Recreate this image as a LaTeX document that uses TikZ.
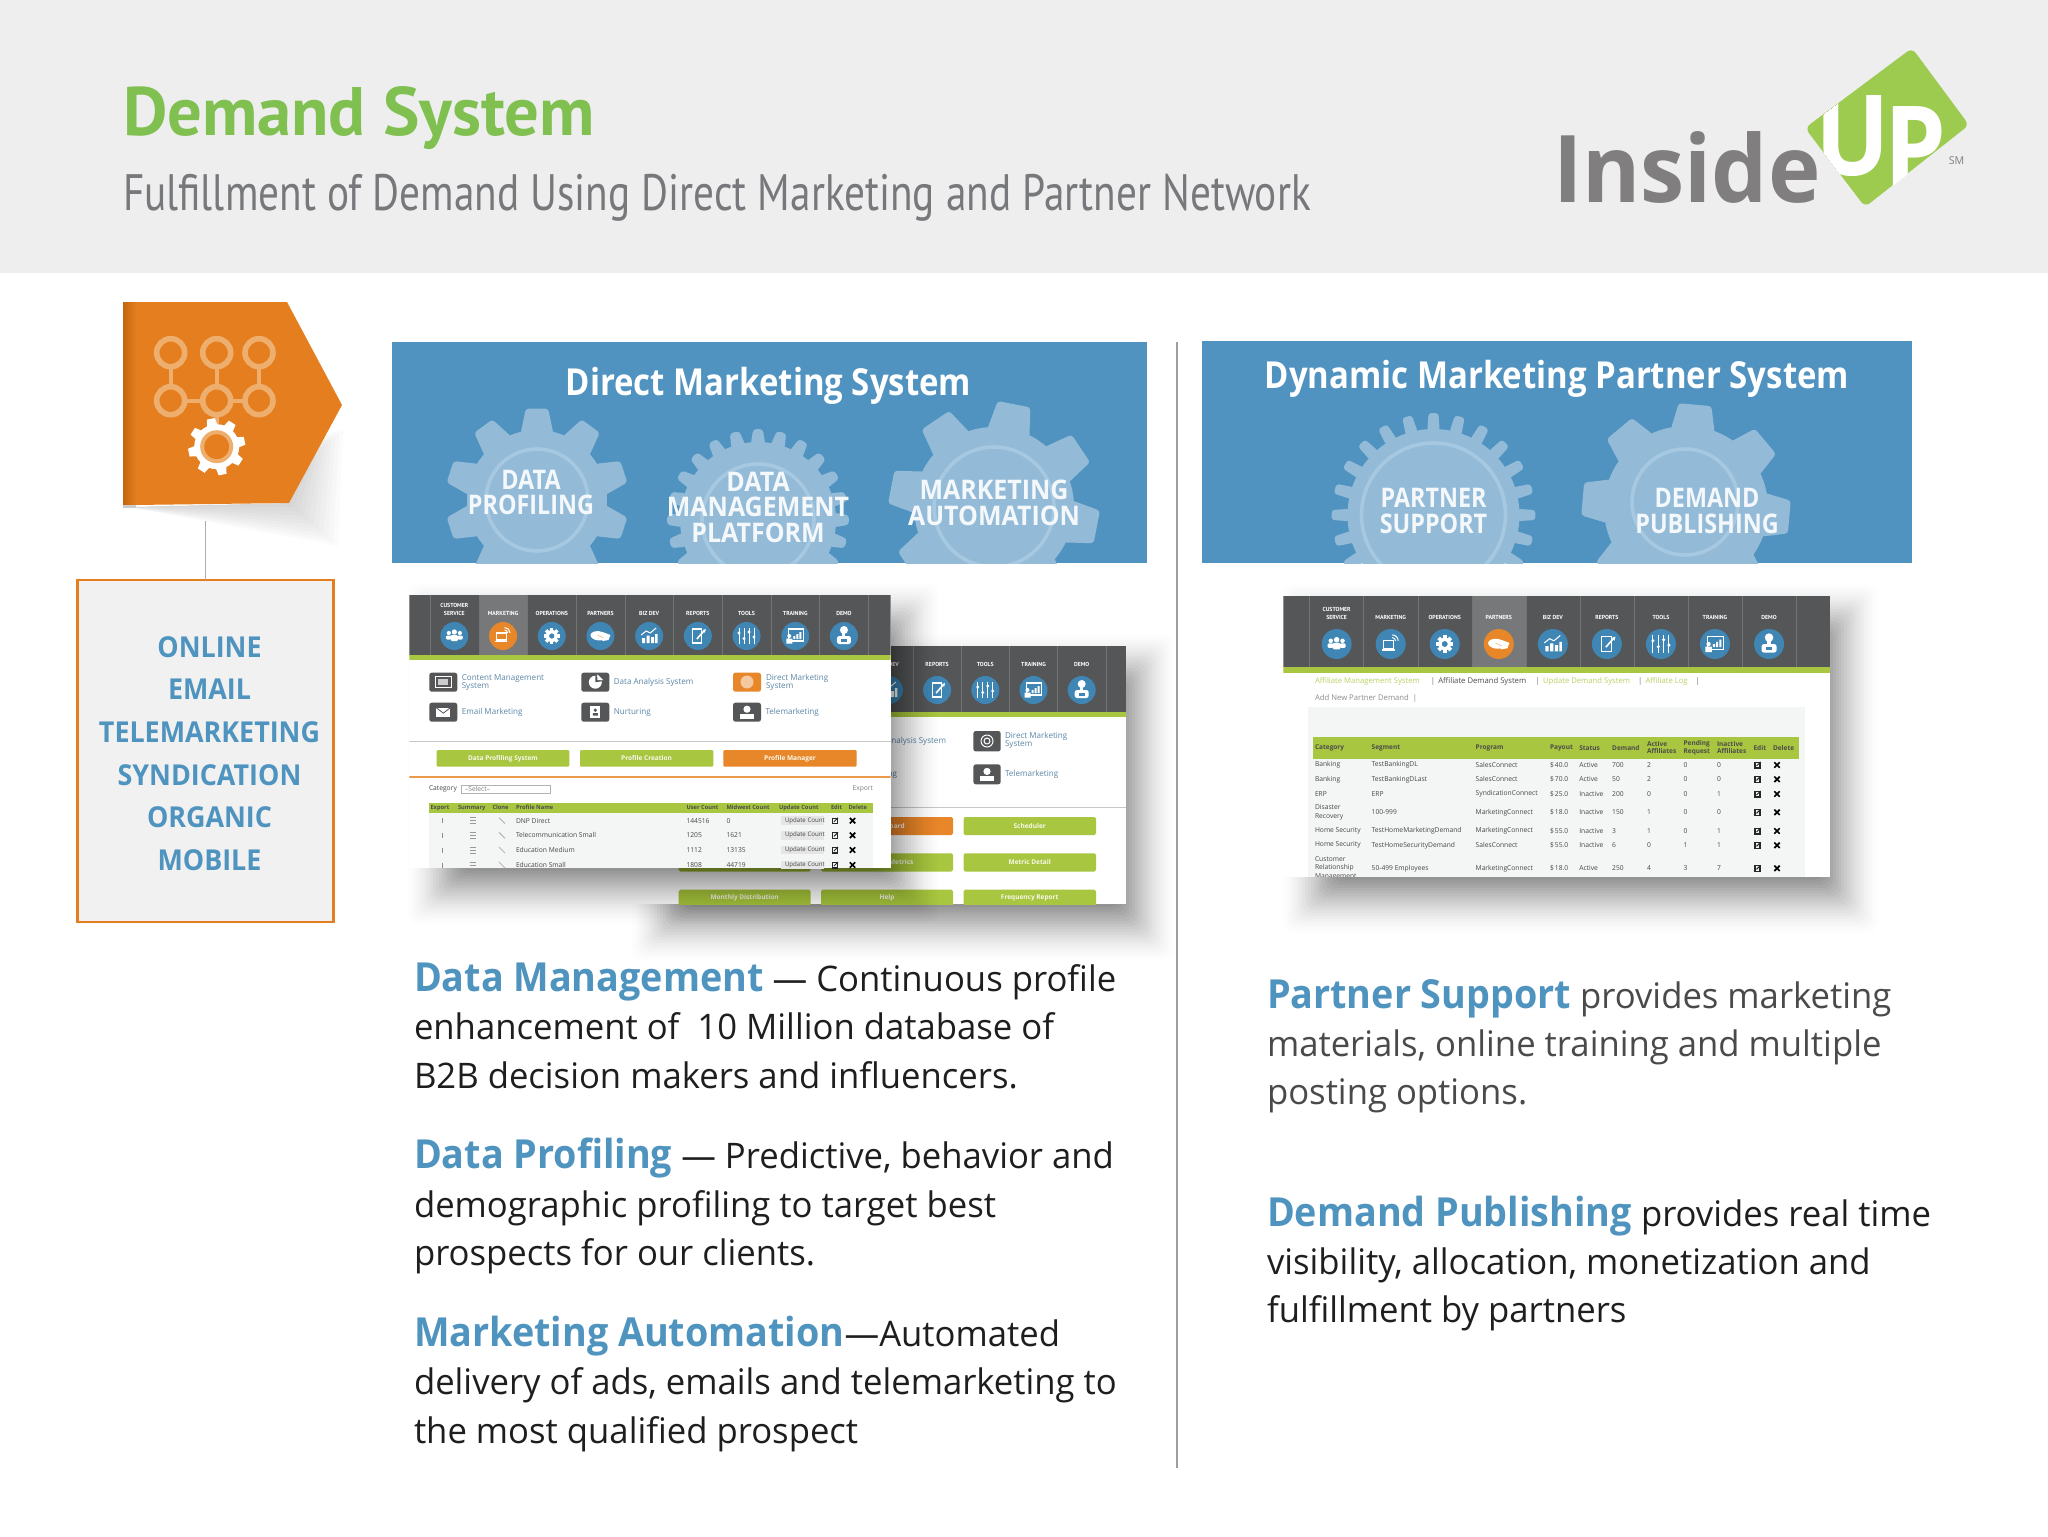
\documentclass[tikz,border=0pt]{standalone}
\usepackage{fontspec}
\setmainfont{Open Sans}[FakeStretch=0.985]
\newfontfamily\ptsans{PT Sans}
\newfontfamily\ptnarrow[FakeStretch=0.806]{PT Sans}
\newfontfamily\oshead[FakeStretch=0.943]{Open Sans}
\newfontfamily\oslist[FakeStretch=0.933]{Open Sans}
\newfontfamily\ostitle[FakeStretch=0.885]{Open Sans}
\newfontfamily\osgear[FakeStretch=0.865]{Open Sans}
\newfontfamily\osgearw[FakeStretch=0.925]{Open Sans}
\newfontfamily\osup[FakeStretch=0.88]{Open Sans}
\newfontfamily\osins[FakeStretch=0.95]{Open Sans}
\definecolor{hdr}{HTML}{EEEEEF}
\definecolor{titlegreen}{HTML}{80C050}
\definecolor{subgray}{HTML}{77787B}
\definecolor{logogreen}{HTML}{9CCB50}
\definecolor{logogray}{HTML}{807E7F}
\definecolor{bannerblue}{HTML}{5093C0}
\definecolor{gearcol}{HTML}{93BBD8}
\definecolor{ringcol}{HTML}{A6C8E0}
\definecolor{headblue}{HTML}{4F93BF}
\definecolor{orangeM}{HTML}{E47E1E}
\definecolor{orangeD}{HTML}{C2670F}
\definecolor{iconring}{HTML}{EEAE6E}
\definecolor{boxfill}{HTML}{F1F1F2}
\definecolor{darkbar}{HTML}{555657}
\definecolor{tabhi}{HTML}{77787A}
\definecolor{scrgreen}{HTML}{A8C63F}
\definecolor{iconblue}{HTML}{3F86B4}
\definecolor{iconorange}{HTML}{E8872A}
\definecolor{itemtext}{HTML}{5D87A6}
\definecolor{rowbg}{HTML}{F4F5F5}
\definecolor{bodytext}{HTML}{1E1E1E}
\definecolor{softtext}{HTML}{4A4A4A}
\newcount\nodecnt
\tikzset{
  every node/.append style={/utils/exec={\global\advance\nodecnt by 1},name=auto\the\nodecnt,inner sep=0pt,outer sep=0pt},
  bline/.style={anchor=base west,font=\fontsize{17.6}{20}\selectfont,text=bodytext},
  softline/.style={bline,text=softtext},
  listitem/.style={font=\oslist\bfseries\fontsize{14.4}{17}\selectfont,text=headblue},
  gearlabel/.style={font=\osgear\bfseries\fontsize{13.5}{16}\selectfont,text=white!90!gearcol},
  gearlabelw/.style={font=\osgearw\bfseries\fontsize{13.5}{16}\selectfont,text=white!90!gearcol},
  bannertitle/.style={font=\ostitle\bfseries\fontsize{18.6}{22}\selectfont,text=white},
  tablabel/.style={anchor=south,align=center,font=\ptsans\bfseries\fontsize{2.9}{3.9}\selectfont,text=white},
  itemlabel/.style={anchor=west,align=left,font=\fontsize{4.1}{4.4}\selectfont,text=itemtext},
  btnlabel/.style={font=\bfseries\fontsize{3.3}{4}\selectfont,text=white!90!scrgreen},
  tcell/.style={anchor=west,align=left,font=\fontsize{3.4}{4.3}\selectfont,text=black!72},
  thead/.style={anchor=west,align=left,font=\bfseries\fontsize{3.3}{3.9}\selectfont,text=black!70},
}
\newcommand\softshadow[4]{%
  \foreach \k in {0,...,19}{%
    \pgfmathsetmacro\op{.006+.002*\k}%
    \fill[black,opacity=\op,rounded corners=5pt]
      ({#1-8+2.8*\k},{#2-12+2.8*\k}) rectangle ({#3+48-2.8*\k},{#4+56-2.8*\k});
  }%
}
\newcommand\gearshape[8]{% cx cy rOuter rRoot n halfroot halftop rot
  \begin{scope}[shift={(#1,#2)}]
    \fill[gearcol] (0,0) circle (#4);
    \foreach \t in {1,...,#5}{%
      \pgfmathsetmacro\aa{#8+\t*360/#5}%
      \fill[gearcol,rounded corners=1.5pt]
        ({\aa-#6}:#4-2) -- ({\aa-#7}:#3) -- ({\aa+#7}:#3) -- ({\aa+#6}:#4-2) -- cycle;
    }%
  \end{scope}
}
\newcommand\tabicon[1]{%
  \ifcase#1\or
    \fill[white] (-5.5,-3) circle (2.1) (5.5,-3) circle (2.1) (0,-4) circle (2.6);
    \fill[white,rounded corners=.6pt] (-8.5,3.5) rectangle (-3,-.5) (3,3.5) rectangle (8.5,-.5) (-3.6,5) rectangle (3.6,-1);
  \or
    \draw[white,line width=.55pt] (-7,-3) rectangle (3,4);
    \fill[white] (-8,5) rectangle (4,6.3);
    \draw[white,line width=.5pt] (4.5,-3) arc (0:-90:3) (7,-3) arc (0:-90:5.5);
  \or
    \foreach \q in {0,45,...,315}{\fill[white,rotate=\q] (-1.7,-4) rectangle (1.7,-8);}
    \draw[white,line width=1.7pt] (0,0) circle (4.6);
  \or
    \fill[white,rotate=-6] (-2,0) ellipse (8 and 4.6);
    \fill[white] (2,-4) -- (10,-1) -- (8,4) -- (2,5) -- cycle;
    \draw[iconorange!60!white,line width=.3pt] (-3,-1) -- (3,2);
  \or
    \fill[white] (-7,7) rectangle (-4,2) (-2.5,7) rectangle (.5,-.5) (2,7) rectangle (5,1) (6,7) rectangle (8.5,-2);
    \draw[white,line width=.5pt] (-8,-1) -- (-3,-5) -- (1,-3) -- (7,-8);
  \or
    \draw[white,line width=.6pt] (-5,-7) rectangle (4,7);
    \draw[white,line width=.8pt] (-1,3) -- (6,-5);
    \fill[white] (5,-6) -- (8,-7) -- (7,-3) -- cycle;
  \or
    \foreach \q in {-7.5,-2.5,2.5,7.5}{\draw[white,line width=.5pt] (\q,-8) -- (\q,8);}
    \fill[white] (-7.5,-3) circle (1.6) (-2.5,2.5) circle (1.6) (2.5,-4) circle (1.6) (7.5,1) circle (1.6);
  \or
    \draw[white,line width=.6pt] (-7,-7) rectangle (8,5);
    \fill[white] (-2,3) rectangle (0,0) (1,3) rectangle (3,-2) (4,3) rectangle (6,-4);
    \fill[white] (-6,0) circle (2) (-9,7.5) rectangle (-3,2.5);
  \or
    \fill[white] (0,-6) circle (4);
    \fill[white] (-1.5,-3) rectangle (1.5,1);
    \fill[white,rounded corners=1.2pt] (-7,8) rectangle (7,0);
    \fill[iconblue] (-3,5.5) rectangle (3,3);
  \fi
}
\newcommand\tabbar[8]{% x0 width ylabel yicon iconscale highlight top bottom
  \fill[tabhi] ({#1+(#6-1)*#2},#7) rectangle ({#1+#6*#2},#8);
  \foreach \i in {0,...,9}{\draw[black!55,line width=.2pt] ({#1+\i*#2},#7) -- ({#1+\i*#2},#8);}
  \foreach \lab [count=\i] in {{CUSTOMER\\SERVICE},MARKETING,OPERATIONS,PARTNERS,BIZ DEV,REPORTS,TOOLS,TRAINING,DEMO}{%
    \node[tablabel] at ({#1+(\i-.5)*#2},{#3+3}) {\lab};
    \ifnum\i=#6\relax\def\tabcol{iconorange}\else\def\tabcol{iconblue}\fi
    \begin{scope}[shift={({#1+(\i-.5)*#2},#4)},scale=#5]
      \fill[\tabcol] (0,0) circle (14);
      \tabicon{\i}
    \end{scope}
  }%
}
\newcommand\itemicon[5]{% x0 y0 x1 y1 colour
  \fill[#5,rounded corners=1.2pt] (#1,#2) rectangle (#3,#4);
}
\newcommand\smallicon[3]{% kind cx cy
  \begin{scope}[shift={(#2,#3)}]
  \ifcase#1\or
    \draw[white,line width=.6pt] (-8,-5.5) rectangle (8,5.5);
    \fill[white!70!darkbar] (-5,-3) rectangle (5,3);
  \or
    \fill[white] (0,0) circle (6.5);
    \fill[darkbar] (0,0) -- (0,-7) -- (7,-1) -- cycle;
    \fill[white] (2,-2) -- (2,-8) -- (8,-2) -- cycle;
  \or
    \fill[white] (-7,-4.5) rectangle (7,4.5);
    \draw[darkbar,line width=.4pt] (-7,-4.5) -- (0,1) -- (7,-4.5);
  \or
    \fill[white] (-5,-6) rectangle (5,6);
    \fill[darkbar] (0,-2) circle (1.8) (-2.5,3.5) rectangle (2.5,1);
  \or
    \fill[white] (0,-3) circle (3.6);
    \fill[white] (-7,6.5) rectangle (7,1.5);
  \fi
  \end{scope}
}
\newcommand\editdel[3]{%
  \draw[black!85,line width=.55pt] ({#1-2.5},{#3-2.5}) rectangle ({#1+2.5},{#3+3});
  \draw[black!85,line width=.5pt] ({#1-1},{#3+1}) -- ({#1+3},{#3-3});
  \draw[black,line width=.85pt] ({#2-2.7},{#3-2.7}) -- ({#2+2.7},{#3+2.7}) ({#2-2.7},{#3+2.7}) -- ({#2+2.7},{#3-2.7});
}
\begin{document}
\begin{tikzpicture}[x=0.5pt,y=-0.5pt]
\useasboundingbox (0,0) rectangle (2048,1536);
\fill[white] (0,0) rectangle (2048,1536);
\fill[hdr] (0,0) rectangle (2048,273);
% header
\node[anchor=base west,text=titlegreen,font=\ptsans\bfseries\fontsize{34.3}{40}\selectfont] (title) at (123,135) {Demand System};
\node[anchor=base west,text=subgray,font=\ptnarrow\fontsize{25.6}{30}\selectfont] (subtitle) at (123,210) {Fulfillment of Demand Using Direct Marketing and Partner Network};
% logo
\node[anchor=base west,text=logogray,font=\osins\bfseries\fontsize{46.7}{52}\selectfont] (inside) at (1553,202) {Inside};
\fill[logogreen,rounded corners=3pt] (1912,48) -- (1969,125) -- (1865,207) -- (1805,128) -- cycle;
\begin{scope}
  \clip[rounded corners=3pt] (1912,48) -- (1969,125) -- (1865,207) -- (1805,128) -- cycle;
  \node[anchor=base,text=white,font=\osup\bfseries\fontsize{56}{60}\selectfont] (logoU) at (1852.5,175.5) {U};
  \node[anchor=base west,text=white,font=\osup\bfseries\fontsize{56}{60}\selectfont] (logoP) at (1884,186.7) {P};
\end{scope}
\node[text=logogray,font=\fontsize{5.4}{6}\selectfont] (sm) at (1956.5,161) {SM};
% pentagon
\foreach \f in {0,.1,.2,.3,.4,.5,.6,.7,.8,.9}{
  \fill[black,opacity=.017] (128,507) -- ({338-49*\f},{546-43*\f}) -- ({343-38*\f},{430+35*\f}) -- (300,440) -- (289,503) -- cycle;
}
\fill[orangeM] (123,302) -- (287,302) -- (342,405) -- (289,503) -- (134,505) -- (123,507) -- cycle;
\shade[left color=orangeD,right color=orangeM] (123,302) rectangle (136,505);
\fill[black!20] (123,505) rectangle (136,508);
\begin{scope}[line width=2pt,draw=iconring]
  \draw[iconring] (170.7,366.7) -- (170.7,386.7) (216.7,366.7) -- (216.7,386.7) (259,366.7) -- (259,386.7);
  \draw[iconring] (184.7,400.7) -- (202.7,400.7) (230.7,400.7) -- (245,400.7) (216.7,414.7) -- (216.7,425);
  \draw[iconring,line width=2.8pt] (170.7,352.7) circle (14) (216.7,352.7) circle (14) (259,352.7) circle (14)
     (170.7,400.7) circle (14) (216.7,400.7) circle (14) (259,400.7) circle (14);
\end{scope}
\begin{scope}[shift={(216.7,446.7)}]
  \foreach \q in {0,45,...,315}{\fill[white,rotate=\q+12] (-5.5,-20) -- (-4,-28.5) -- (4,-28.5) -- (5.5,-20) -- cycle;}
  \fill[white] (0,0) circle (22.5);
  \fill[orangeM] (0,0) circle (15);
  \draw[iconring,line width=2pt] (0,0) circle (14.5);
\end{scope}
% list box
\node[draw=orangeM,line width=1.25pt,fill=boxfill,minimum width=128pt,minimum height=171pt] (listbox) at (205.5,751) {};
\coordinate (stem) at (205.5,521);
\draw[black!32,line width=.8pt] (stem) -- (listbox.north);
\foreach \w/\yy in {ONLINE/647,EMAIL/689,TELEMARKETING/732,SYNDICATION/775,ORGANIC/817.4,MOBILE/860}{
  \node[listitem] at (209.5,\yy) {\w};
}
% banners
\fill[bannerblue] (392,342) rectangle (1147,563);
\begin{scope}
  \clip (392,342) rectangle (1147,563);
  \gearshape{537}{500}{92}{70}{10}{14}{7}{-90}
  \draw[ringcol,line width=1.8pt] (537,500) circle (51);
  \gearshape{758}{520}{91}{78}{24}{5.5}{3}{-90}
  \draw[ringcol,line width=1.8pt] (758,520) circle (56);
  \gearshape{994}{507}{106}{80}{8}{16}{9}{-79}
  \draw[ringcol,line width=1.8pt] (994,507) circle (60);
\end{scope}
\node[bannertitle] (dmstitle) at (768.5,385.5) {Direct Marketing System};
\node[gearlabel] at (531,479.5) {DATA};
\node[gearlabel] at (531,504.6) {PROFILING};
\node[gearlabelw] at (758,481.6) {DATA};
\node[gearlabelw] at (758,506.8) {MANAGEMENT};
\node[gearlabelw] at (758,532.4) {PLATFORM};
\node[gearlabelw] at (994,490) {MARKETING};
\node[gearlabelw] at (994,515.5) {AUTOMATION};

\fill[bannerblue] (1202,341) rectangle (1912,563);
\begin{scope}
  \clip (1202,341) rectangle (1912,563);
  \gearshape{1433.5}{515}{102}{86}{24}{4.2}{2.8}{-90}
  \draw[ringcol,line width=1.8pt] (1433.5,515) circle (72);
  \gearshape{1686}{508}{105}{82}{8}{16}{9}{-85}
  \draw[ringcol,line width=1.8pt] (1685,502) circle (53);
\end{scope}
\node[bannertitle] (dmpstitle) at (1557,378.5) {Dynamic Marketing Partner System};
\node[gearlabel] at (1433.5,498) {PARTNER};
\node[gearlabel] at (1433.5,523.6) {SUPPORT};
\node[gearlabel] at (1707,498) {DEMAND};
\node[gearlabel] at (1707,523.6) {PUBLISHING};
% divider
\draw[black!38,line width=.6pt] (1177,342) -- (1177,1468);
% ------- back screen
\softshadow{640}{646}{1126}{904}
\fill[white] (632,646) rectangle (1126,904);
\begin{scope}
  \clip (632,646) rectangle (1126,904);
  \fill[darkbar] (632,646) rectangle (1126,711.5);
  \fill[scrgreen] (632,711.5) rectangle (1126,717);
  \tabbar{672}{48.2}{664}{690}{1}{2}{646}{711.5}
  \node[itemlabel,anchor=east] at (946,741) {Data Analysis System};
  \node[itemlabel,anchor=east] at (897,774) {Nurturing};
  \itemicon{973.4}{731}{1000.7}{751.4}{darkbar}
  \draw[white,line width=.5pt] (987,741) circle (6) (987,741) circle (3);
  \node[itemlabel] at (1005,740.5) {Direct Marketing\\[-.3pt]System};
  \itemicon{973.4}{764.4}{1000.7}{784.3}{darkbar}
  \smallicon{5}{987}{774.4}
  \node[itemlabel] at (1005,774.4) {Telemarketing};
  \draw[black!22,line width=.5pt] (632,807) -- (1126,807);
  \foreach \a/\b/\c in {821/953/iconorange,963.5/1096/scrgreen}{\fill[\c,rounded corners=.8pt] (\a,817) rectangle (\b,835);}
  \node[btnlabel] at (887,826) {Dashboard};
  \node[btnlabel] at (1029.7,826) {Scheduler};
  \foreach \a/\b in {678.7/810.6,821/953,963.5/1096}{\fill[scrgreen,rounded corners=.8pt] (\a,853.3) rectangle (\b,871.5);
     \fill[scrgreen,rounded corners=.8pt] (\a,889.7) rectangle (\b,912);}
  \node[btnlabel] at (887,862.4) {Delivery Metrics};
  \node[btnlabel] at (1029.7,862.4) {Metric Detail};
  \node[btnlabel] at (744.6,898) {Monthly Distribution};
  \node[btnlabel] at (887,898) {Help};
  \node[btnlabel] at (1029.7,898) {Frequency Report};
\end{scope}
% ------- front screen
\softshadow{416}{595}{890.7}{868}
\fill[white] (409.3,595) rectangle (890.7,868);
\begin{scope}
  \clip (409.3,595) rectangle (890.7,868);
  \fill[darkbar] (409.3,595) rectangle (890.7,655);
  \fill[scrgreen] (409.3,655) rectangle (890.7,660);
  \tabbar{430}{48.7}{612.7}{636}{1}{2}{595}{655}
  \foreach \a/\b/\t/\kk in {429.3/672.7/{Content Management\\[-.3pt]System}/1,581.3/672.7/{Data Analysis System}/2,429.3/702.7/{Email Marketing}/3,581.3/702.7/Nurturing/4,733/702.7/Telemarketing/5}{
    \itemicon{\a}{\b}{\a+28}{\b+19}{darkbar}
    \smallicon{\kk}{\a+14}{\b+9.5}
    \node[itemlabel] at (\a+32.5,\b+9.8) {\t};
  }
  \itemicon{733}{672.7}{761}{691.7}{iconorange}
  \fill[white!55!iconorange] (747,682) circle (6.5);
  \node[itemlabel] at (766,682.5) {Direct Marketing\\[-.3pt]System};
  \draw[black!22,line width=.5pt] (409.3,741.7) -- (890.7,741.7);
  \fill[scrgreen,rounded corners=.6pt] (436.7,750) rectangle (569.3,766.7);
  \fill[scrgreen,rounded corners=.6pt] (580,750) rectangle (713.3,766.7);
  \fill[iconorange,rounded corners=.6pt] (723.3,750) rectangle (856.7,766.7);
  \node[btnlabel] at (503,758.4) {Data Profiling System};
  \node[btnlabel] at (646.6,758.4) {Profile Creation};
  \node[btnlabel] at (790,758.4) {Profile Manager};
  \draw[iconorange!85!white,line width=1pt] (409.3,776.7) -- (890.7,776.7);
  \node[tcell] at (429,789.3) {Category};
  \draw[black!30,line width=.25pt] (461.7,785) rectangle (550.7,793.3);
  \node[tcell,text=black!50] at (465,789.3) {--Select--};
  \node[tcell,anchor=east,text=black!50] at (873,788.5) {Export};
  \fill[rowbg] (429.3,812.7) rectangle (872.7,868);
  \fill[scrgreen] (429.3,802.7) rectangle (872.7,812.7);
  \foreach \x/\t in {430.5/Export,458/Summary,492.5/Clone,516/Profile Name,686.5/User Count,726.5/Midwest Count,779/Update Count,831/Edit,848.5/Delete}{
    \node[thead,font=\bfseries\fontsize{2.9}{3.9}\selectfont] at (\x,807.7) {\t};
  }
  \foreach \yy/\nm/\u/\m in {820.7/DNP Direct/144516/0,835.3/Telecommunication Small/1205/1621,850/Education Medium/1112/13135,865/Education Small/1808/44719}{
    \fill[black!45] (441.5,\yy-2.5) rectangle (442.8,\yy+2.5);
    \draw[black!40,line width=.5pt] (470,\yy-3) -- (476,\yy-3) (470,\yy) -- (476,\yy) (470,\yy+3) -- (476,\yy+3);
    \draw[black!28,line width=.5pt] (499,\yy-3) -- (505,\yy+3);
    \node[tcell] at (516,\yy) {\nm};
    \node[tcell] at (686.5,\yy) {\u};
    \node[tcell] at (726.5,\yy) {\m};
    \fill[black!10] (781,\yy-4.3) rectangle (824,\yy+4.3);
    \node[tcell,font=\fontsize{3.1}{4}\selectfont] at (785,\yy) {Update Count};
    \editdel{835}{852.5}{\yy}
  }
\end{scope}
% ------- right screen
\softshadow{1291}{596}{1829.8}{876.7}
\fill[white] (1283.3,596) rectangle (1829.8,876.7);
\begin{scope}
  \clip (1283.3,596) rectangle (1829.8,876.7);
  \fill[darkbar] (1283.3,596) rectangle (1829.8,666.7);
  \fill[scrgreen] (1283.3,666.7) rectangle (1829.8,672.7);
  \tabbar{1309.6}{54.05}{616.7}{644}{1.07}{4}{596}{666.7}
  \begin{scope}[every node/.append style={font=\fontsize{3.9}{4.6}\selectfont}]
    \node[anchor=west,text=scrgreen!80!white] at (1315,681.7) {Affiliate Management System};
    \node[anchor=west,text=black!55] at (1430.8,681.7) {|};
    \node[anchor=west,text=black!70] at (1438.3,681.7) {Affiliate Demand System};
    \node[anchor=west,text=black!55] at (1535.6,681.7) {|};
    \node[anchor=west,text=scrgreen!80!white] at (1543,681.7) {Update Demand System};
    \node[anchor=west,text=black!55] at (1638,681.7) {|};
    \node[anchor=west,text=scrgreen!80!white] at (1645.6,681.7) {Affiliate Log};
    \node[anchor=west,text=black!55] at (1695.5,681.7) {|};
    \node[anchor=west,text=black!45] at (1315,698.7) {Add New Partner Demand \ |};
  \end{scope}
  \fill[rowbg] (1308,706.7) rectangle (1804.6,877);
  \fill[scrgreen] (1313.3,736.7) rectangle (1799,759);
  \foreach \x/\t in {1315/Category,1371.7/Segment,1475.7/Program,1550/Payout,1579.3/Status,1612.2/Demand,{1647}/{Active\\[-.3pt]Affiliates},{1683.6}/{Pending\\[-.3pt]Request},{1717}/{Inactive\\[-.3pt]Affiliates},1753.5/Edit,1773/Delete}{
    \node[thead] at (\x,747.8) {\t};
  }
  \foreach \yy/\a/\b/\c/\d/\e/\f/\g/\h/\j in {
     765/Banking/TestBankingDL/SalesConnect/\$\,40.0/Active/700/2/0/0,
     779.3/Banking/TestBankingDLast/SalesConnect/\$\,70.0/Active/50/2/0/0,
     794/ERP/ERP/SyndicationConnect/\$\,25.0/Inactive/200/0/0/1,
     812.3/{Disaster\\[-.2pt]Recovery}/100-999/MarketingConnect/\$\,18.0/Inactive/150/1/0/0,
     831/Home Security/TestHomeMarketingDemand/MarketingConnect/\$\,55.0/Inactive/3/1/0/1,
     845.3/Home Security/TestHomeSecurityDemand/SalesConnect/\$\,55.0/Inactive/6/0/1/1,
     868.3/{Customer\\[-.2pt]Relationship\\[-.2pt]Management}/50-499 Employees/MarketingConnect/\$\,18.0/Active/250/4/3/7}{
    \node[tcell] at (1315,\yy) {\a};
    \node[tcell] at (1371.7,\yy) {\b};
    \node[tcell] at (1475.7,\yy) {\c};
    \node[tcell] at (1550,\yy) {\d};
    \node[tcell] at (1579.3,\yy) {\e};
    \node[tcell] at (1612.2,\yy) {\f};
    \node[tcell] at (1647,\yy) {\g};
    \node[tcell] at (1683.6,\yy) {\h};
    \node[tcell] at (1717,\yy) {\j};
    \editdel{1757.5}{1777}{\yy}
  }
\end{scope}
% ------- body text
\newcommand\hd[1]{{\oshead\bfseries\color{headblue}\fontsize{20}{24}\selectfont #1}}
\node[bline] (p1a) at (414,991) {\hd{Data Management} — Continuous profile};
\node[bline] (p1b) at (414,1039.8) {enhancement of \ 10 Million database of};
\node[bline] (p1c) at (414,1088.2) {B2B decision makers and influencers.};
\node[bline] (p2a) at (414,1168.7) {\hd{Data Profiling} — Predictive, behavior and};
\node[bline] (p2b) at (414,1217.4) {demographic profiling to target best};
\node[bline] (p2c) at (414,1265.9) {prospects for our clients.};
\node[bline] (p3a) at (414,1346.4) {\hd{Marketing Automation}—Automated};
\node[bline] (p3b) at (414,1394.4) {delivery of ads, emails and telemarketing to};
\node[bline] (p3c) at (414,1443.4) {the most qualified prospect};
\node[softline] (r1a) at (1267,1008.1) {\hd{Partner Support} provides marketing};
\node[softline] (r1b) at (1267,1056.4) {materials, online training and multiple};
\node[softline] (r1c) at (1267,1104.9) {posting options.};
\node[bline] (r2a) at (1267,1226.1) {\hd{Demand Publishing} provides real time};
\node[bline] (r2b) at (1267,1274.4) {visibility, allocation, monetization and};
\node[bline] (r2c) at (1267,1322.9) {fulfillment by partners};
\end{tikzpicture}
\end{document}
